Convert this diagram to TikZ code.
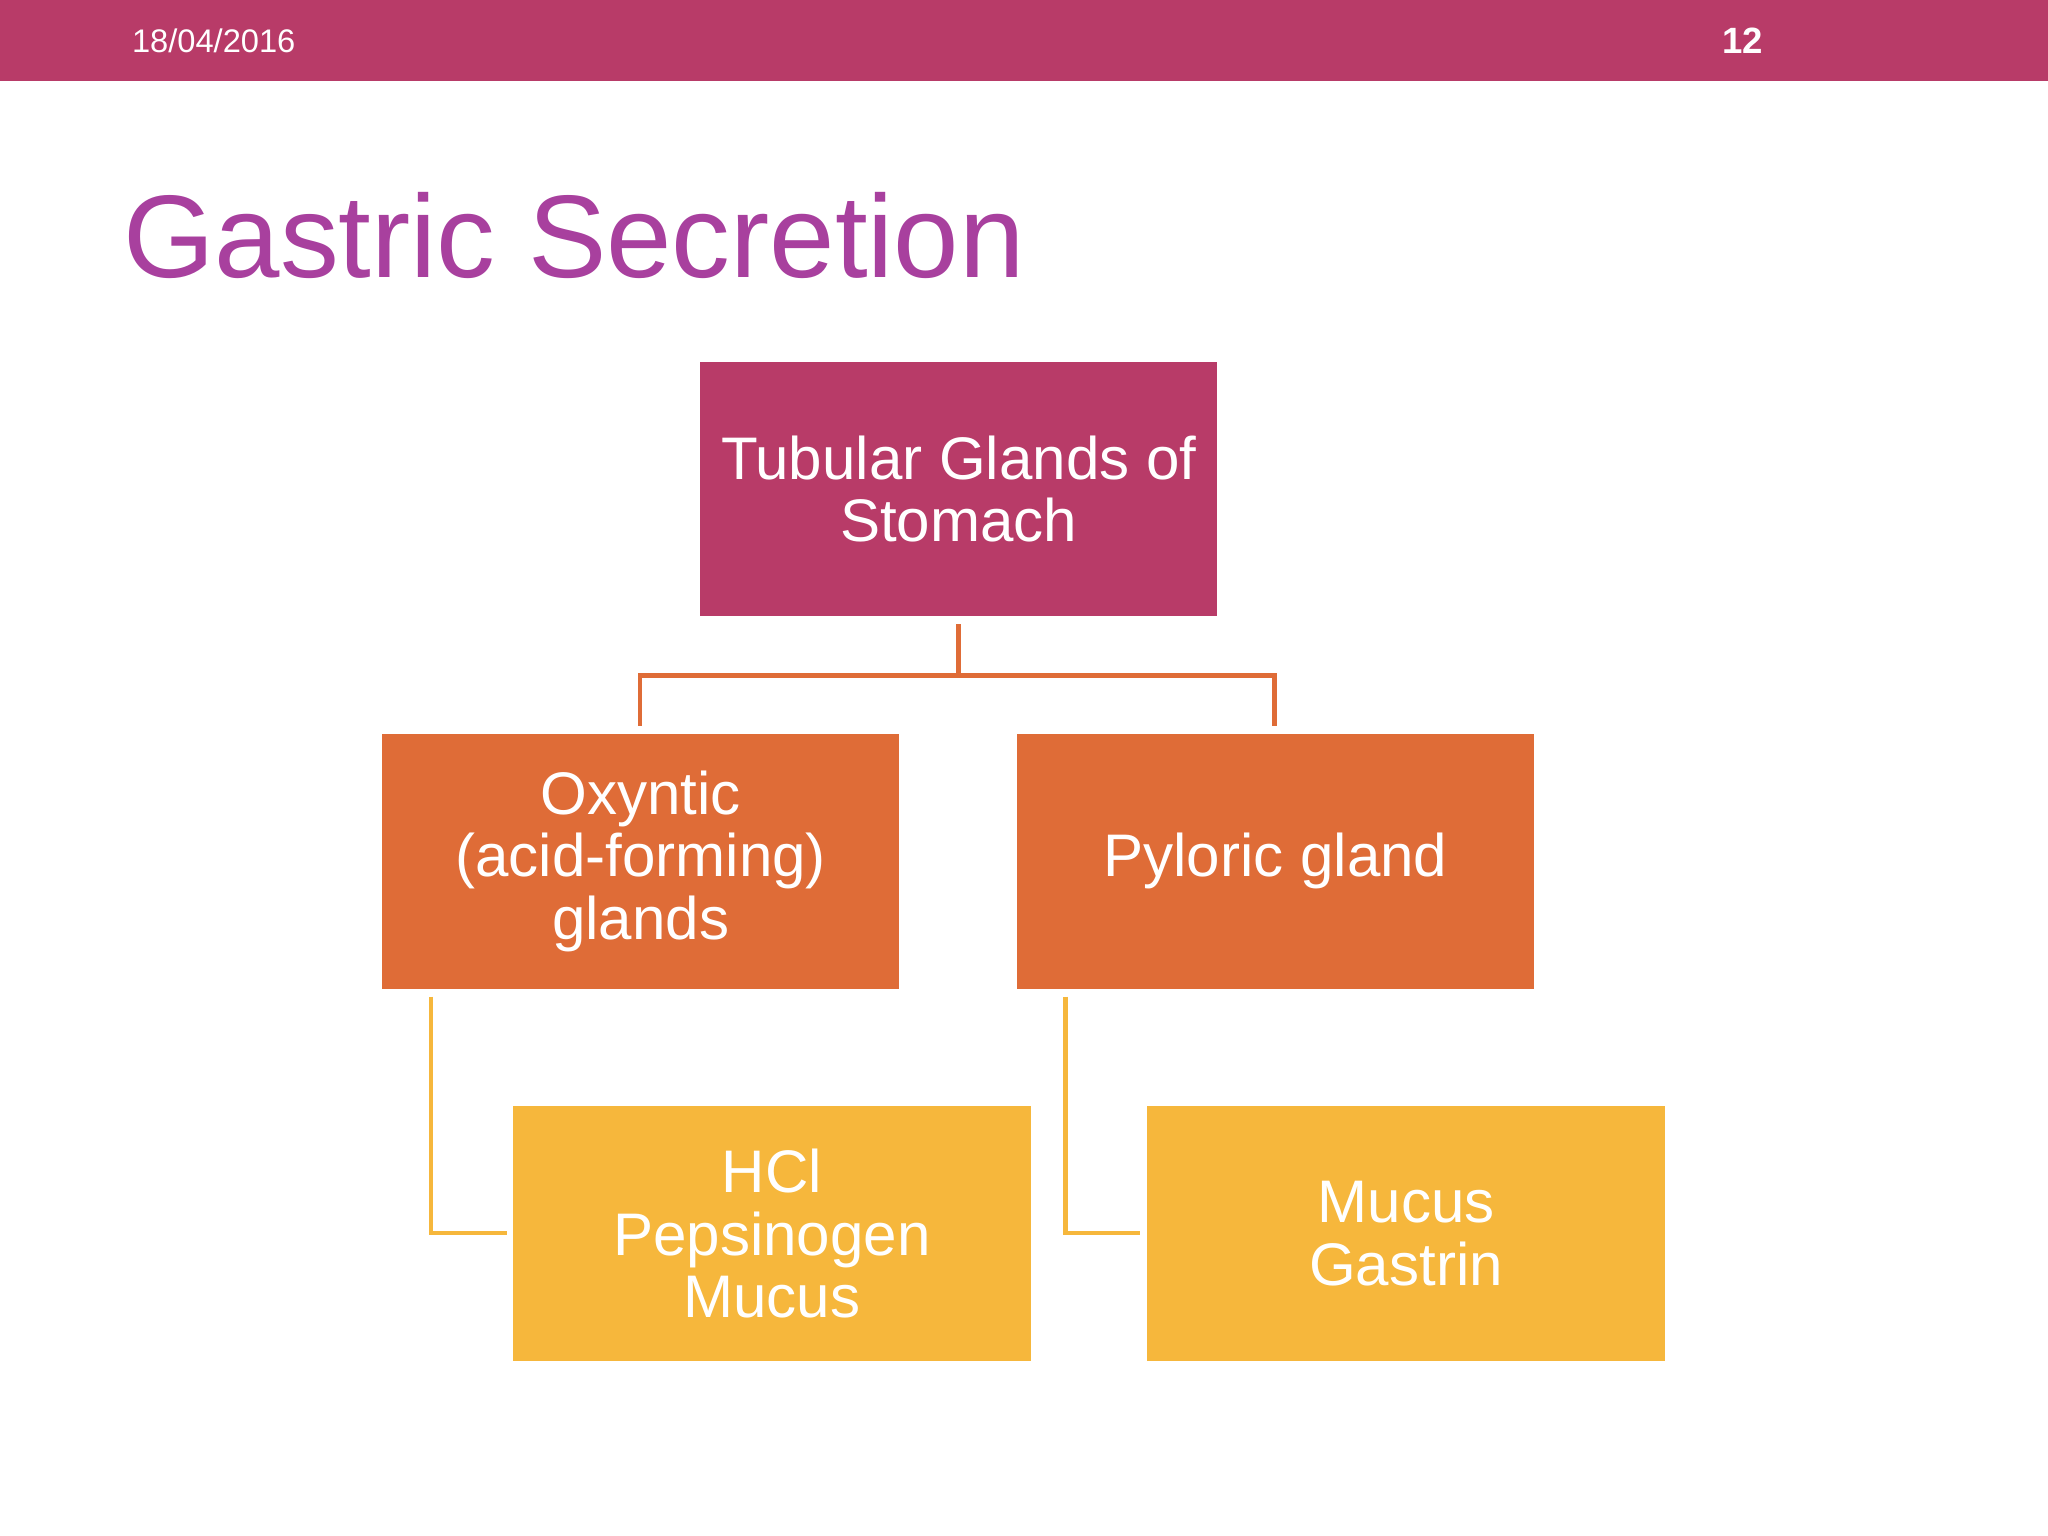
\documentclass[tikz,border=0pt]{standalone}
\usepackage{fontspec}
\setmainfont{Liberation Sans}
\definecolor{hdr}{HTML}{B83B68}
\definecolor{ttl}{HTML}{A8409E}
\definecolor{org}{HTML}{DF6C37}
\definecolor{yel}{HTML}{F6B73C}
\begin{document}
\begin{tikzpicture}[x=0.5pt,y=-0.5pt,
  box/.style={minimum width=198pt,minimum height=97.5pt,inner sep=0pt,text=white,align=center,font=\fontsize{23}{24}\selectfont},
  conO/.style={draw=org,line width=1.8pt},
  conY/.style={draw=yel,line width=1.8pt}]
\useasboundingbox (0,0) rectangle (1568,1176);
\fill[hdr] (0,0) rectangle (1568,62);
\node[anchor=west,text=white,font=\fontsize{12.5}{14}\selectfont] (date) at (94,31) {18/04/2016};
\node[anchor=east,text=white,font=\bfseries\fontsize{14}{16}\selectfont] (num) at (1357,31) {12};
\node[anchor=west,text=ttl,font=\fontsize{45}{50}\selectfont,inner sep=0pt] (title) at (94,180) {Gastric Secretion};
\node[box,fill=hdr] (top) at (734,374.5) {Tubular Glands of\\Stomach};
\node[box,fill=org] (oxy) at (490.5,659.5) {Oxyntic\\(acid-forming)\\glands};
\node[box,fill=org] (pyl) at (976.5,659.5) {Pyloric gland};
\node[box,fill=yel] (hcl) at (591,944.5) {HCl\\Pepsinogen\\Mucus};
\node[box,fill=yel] (muc) at (1076.5,944.5) {Mucus\\Gastrin};
\coordinate (t1) at (734,478);
\coordinate (o1) at (490,556);
\coordinate (p1) at (976,556);
\draw[conO] (t1) -- (734,517) -| (o1);
\draw[conO] (734,517) -| (p1);
\coordinate (oy) at (330,763);
\coordinate (hy) at (388,944);
\coordinate (py) at (816,763);
\coordinate (my) at (873,944);
\draw[conY] (oy) |- (hy);
\draw[conY] (py) |- (my);
\end{tikzpicture}
\end{document}
